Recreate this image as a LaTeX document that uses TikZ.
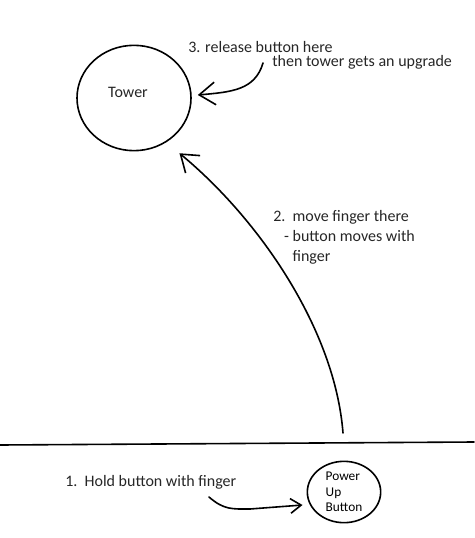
\documentclass[tikz,border=0pt]{standalone}
\usepackage{fontspec}
\setmainfont{Carlito}
\usetikzlibrary{shapes}
\usetikzlibrary{arrows.meta}
\tikzset{
	sketch_line/.style = {
		line width=1.2pt,
		line cap=round,
		line join=round
	},
	sketch_arrow/.style = {
		sketch_line,
		-{Straight Barb[length=12pt,width=17pt,line width=1.2pt]}
	},
	sketch_arrow_small/.style = {
		sketch_line,
		-{Straight Barb[length=8pt,width=11pt,line width=1.2pt]}
	},
	node_round/.style = {
		ellipse,
		draw=black,
		line width=1.2pt,
		inner sep=0pt,
		align=left
	},
	node_tower/.style = {
		node_round,
		minimum width=85.5pt,
		minimum height=79pt
	},
	node_button/.style = {
		node_round,
		minimum width=55pt,
		minimum height=46pt,
		font=\fontsize{10}{11.6}\selectfont
	},
	note/.style = {
		inner sep=0pt,
		anchor=west,
		align=left,
		text=black!85,
		font=\fontsize{12}{15}\selectfont
	},
}

\begin{document}
\begin{tikzpicture}[x=0.75pt,y=-0.75pt]
\useasboundingbox (0,0) rectangle (474,538);
% the two circles
\node [node_tower] (tower) at (134,98) {};
\node [note, anchor=center] (tower_label) at (128,92) {Tower};
\node [node_button] (button) at (344,492) {Power\\Up\\Button};
% ground line
\coordinate (ground_l) at (0,445);
\coordinate (ground_r) at (474,442);
\draw [sketch_line] (ground_l) -- (ground_r);
% notes
\node [note] (note_hold) at (65,482) {1.\ \ Hold button with finger};
\node [note] (note_move) at (273,237) {\begin{tabular}{@{}l@{\hspace{0.45em}}l@{}}
	2. & move finger there\\
	& \llap{-\ }button moves with\\
	& finger
\end{tabular}};
\node [note] (note_release) at (188,47) {3. release button here};
\node [note] (note_release_b) at (272,62) {then tower gets an upgrade};
% arrows
\coordinate (hold_from) at (209,497);
\coordinate (move_from) at (343,433);
\coordinate (release_from) at (263,63);
\draw [sketch_arrow_small] (hold_from) .. controls (224,510) and (232,509) .. (250,509)
	-- ([shift={(-4,13)}]button.west);
\draw [sketch_arrow] (move_from) .. controls (335,330) and (260,220) .. ([shift={(10,13)}]tower.-50);
\draw [sketch_arrow] (release_from) .. controls (255,90) and (232,92) .. ([shift={(6,-3)}]tower.east);
\end{tikzpicture}
\end{document}
